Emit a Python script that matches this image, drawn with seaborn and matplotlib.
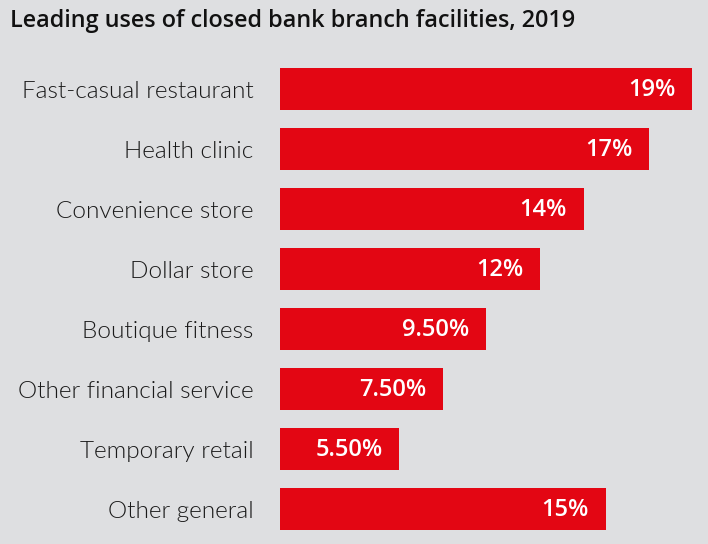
import matplotlib
matplotlib.use("Agg")
import matplotlib.pyplot as plt
import seaborn as sns
import pandas as pd

categories = ["Fast-casual restaurant", "Health clinic", "Convenience store",
              "Dollar store", "Boutique fitness", "Other financial service",
              "Temporary retail", "Other general"]
values = [19, 17, 14, 12, 9.5, 7.5, 5.5, 15]
value_labels = ["19%", "17%", "14%", "12%", "9.50%", "7.50%", "5.50%", "15%"]
title = "Leading uses of closed bank branch facilities, 2019"

BG = "#dedfe1"
RED = "#e30613"

sns.set_theme(style="white")
plt.rcParams['font.family'] = ['Open Sans', 'DejaVu Sans']

df = pd.DataFrame({"category": categories, "value": values})

fig = plt.figure(figsize=(7.08, 5.44), dpi=100, facecolor=BG)
ax = fig.add_axes([280/708, 1 - 539/544, 428/708, 480/544])
ax.set_facecolor(BG)

sns.barplot(data=df, x="value", y="category", ax=ax, color=RED,
            saturation=1, width=0.7, orient="h", linewidth=0)

ax.set_xlim(0, 428/21.7)
ax.set_ylim(7.5, -0.5)
for s in ax.spines.values():
    s.set_visible(False)
ax.set_xticks([])
ax.set_xlabel("")
ax.set_ylabel("")
ax.tick_params(axis="y", length=0, pad=19)
for lab in ax.get_yticklabels():
    lab.set_family(['Lato', 'DejaVu Sans'])
    lab.set_fontsize(17.6)
    lab.set_fontweight(300)
    lab.set_color("#1a1a1a")

for i, (v, t) in enumerate(zip(values, value_labels)):
    ax.annotate(t, xy=(v, i), xytext=(-12, -1), textcoords="offset points",
                ha="right", va="center", color="white", fontsize=17,
                fontweight="semibold")

fig.text(10/708, 1 - 21/544, title, ha="left", va="center", fontsize=16.8,
         fontweight="semibold", color="#111111")

fig.savefig("out.png", dpi=100, facecolor=BG)
